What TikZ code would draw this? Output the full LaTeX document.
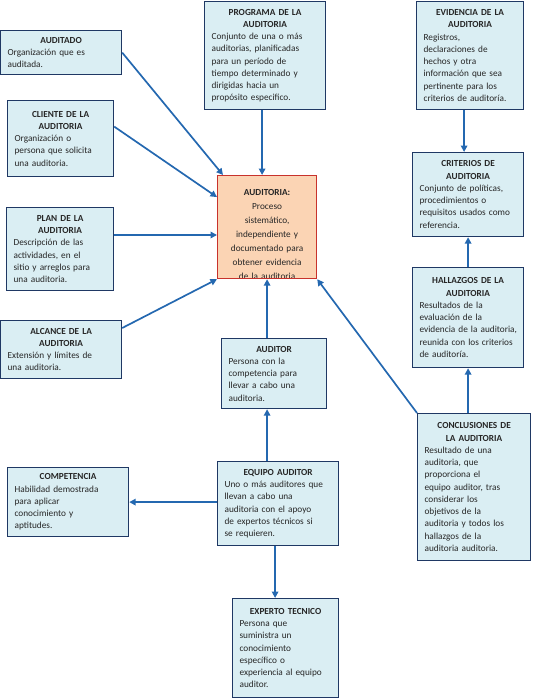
\documentclass[tikz,border=0pt]{standalone}
\usepackage{fontspec}
\setmainfont{Carlito}
\usetikzlibrary{arrows.meta}
\definecolor{boxfill}{HTML}{DAEEF3}
\definecolor{boxline}{HTML}{1F3864}
\definecolor{arrowblue}{HTML}{2468B0}
\definecolor{corefill}{HTML}{FBD4B4}
\definecolor{coreline}{HTML}{C8322C}
\newcommand{\boxtitle}[1]{{\centering\textbf{#1}\par}}
\hyphenpenalty=10000
\hbadness=10000
\hfuzz=20pt

\begin{document}
\begin{tikzpicture}[x=1bp,y=-1bp,
  concept/.style 2 args={draw=boxline,fill=boxfill,line width=1.2bp,anchor=north west,
    inner xsep=7bp,inner ysep=0pt,align=left,text=black!85,
    font=\fontsize{9.3}{12.3}\selectfont,
    minimum width=#1bp,minimum height=#2bp,text width=#1bp-14bp},
  link/.style={draw=arrowblue,line width=2.6bp,-{Triangle[length=6.5bp,width=6.5bp]}},
  thinlink/.style={link,line width=1.7bp}]
\useasboundingbox (0,0) rectangle (533,699);

%Boxes
\node (auditado) [concept={121}{44}] at (0,30)
  {\boxtitle{AUDITADO}Organización que es\\auditada.};
\node (cliente) [concept={106}{76}] at (7,100)
  {\boxtitle{CLIENTE DE LA\\AUDITORIA}Organización o\\persona que solicita\\una auditoria.};
\node (programa) [concept={121}{108}] at (204,1)
  {\boxtitle{PROGRAMA DE LA\\AUDITORIA}Conjunto de una o más\\auditorias, planificadas\\para un período de\\tiempo determinado y\\dirigidas hacia un\\propósito especifico.};
\node (evidencia) [concept={107}{108}] at (416,1)
  {\boxtitle{EVIDENCIA DE LA\\AUDITORIA}Registros,\\declaraciones de\\hechos y otra\\información que sea\\pertinente para los\\criterios de auditoría.};
\node (criterios) [concept={111}{84}] at (412,152)
  {\boxtitle{CRITERIOS DE\\AUDITORIA}Conjunto de políticas,\\procedimientos o\\requisitos usados como\\referencia.};
\node (plan) [concept={107}{83}] at (6,207)
  {\boxtitle{PLAN DE LA\\AUDITORIA}Descripción de las\\actividades, en el\\sitio y arreglos para\\una auditoria.};
\node (alcance) [concept={121}{58}] at (0,320)
  {\boxtitle{ALCANCE DE LA\\AUDITORIA}Extensión y límites de\\una auditoria.};
\node (hallazgos) [concept={111}{100}] at (412,267)
  {\boxtitle{HALLAZGOS DE LA\\AUDITORIA}Resultados de la\\evaluación de la\\\mbox{evidencia de la auditoria,}\\reunida con los criterios\\de auditoría.};
\node (auditor) [concept={105}{70}] at (221,338)
  {\boxtitle{AUDITOR}Persona con la\\competencia para\\llevar a cabo una\\auditoria.};
\node (conclusiones) [concept={113}{147}] at (417,413)
  {\boxtitle{CONCLUSIONES DE\\LA AUDITORIA}Resultado de una\\auditoria, que\\proporciona el\\equipo auditor, tras\\considerar los\\objetivos de la\\auditoria y todos los\\hallazgos de la\\auditoria auditoria.};
\node (competencia) [concept={121}{69}] at (7,467)
  {\boxtitle{COMPETENCIA}Habilidad demostrada\\para aplicar\\conocimiento y\\aptitudes.};
\node (equipo) [concept={121}{84}] at (217,461)
  {\boxtitle{EQUIPO AUDITOR}Uno o más auditores que\\llevan a cabo una\\auditoria con el apoyo\\de expertos técnicos si\\se requieren.};
\node (experto) [concept={106}{99}] at (232,598)
  {\boxtitle{EXPERTO TECNICO}Persona que\\suministra un\\conocimiento\\específico o\\experiencia al equipo\\auditor.};

%Centre
\node (auditoria) [draw=coreline,fill=corefill,line width=1.2bp,anchor=north west,
  minimum width=99bp,minimum height=103bp,
  path picture={\node (coretext) [anchor=north,inner sep=0pt,text width=95bp,align=center,
    text=black!85,font=\fontsize{9.3}{14}\selectfont]
    at ([yshift=-7bp]path picture bounding box.north)
    {\textbf{AUDITORIA:}\\Proceso\\sistemático,\\independiente y\\documentado para\\obtener evidencia\\de la auditoria};}]
  at (217,175) {};

%Arrows
%Left
\draw [thinlink] (auditado.east) -- ([xshift=6bp]auditoria.north west);
\draw [thinlink] ([yshift=12bp]cliente.east) -- ([yshift=30bp]auditoria.west);
\draw [link] (plan.east |- 0,235) -- (auditoria.west |- 0,235);
\draw [thinlink] ([yshift=-8bp]alcance.north east) -- (auditoria.south west);
%Top
\draw [link] ([xshift=-3bp]programa.south) -- ([xshift=-3bp]programa.south |- auditoria.north);
%Bottom
\draw [link] (auditoria.south |- auditor.north) -- (auditoria.south);
\draw [link] (auditoria.south |- equipo.north) -- (auditoria.south |- auditor.south);
\draw [link] (equipo.west |- competencia.east) -- (competencia.east);
\draw [link] ([xshift=-3bp]equipo.south) -- ([xshift=-3bp]equipo.south |- experto.north);
%Right
\draw [thinlink] (conclusiones.north west) -- (auditoria.south east);
\draw [link] ([xshift=-6bp]evidencia.south) -- ([xshift=-6bp]evidencia.south |- criterios.north);
\draw [link] (hallazgos.north) -- (hallazgos.north |- criterios.south);
\draw [link] (hallazgos.south |- conclusiones.north) -- (hallazgos.south);
\end{tikzpicture}
\end{document}
